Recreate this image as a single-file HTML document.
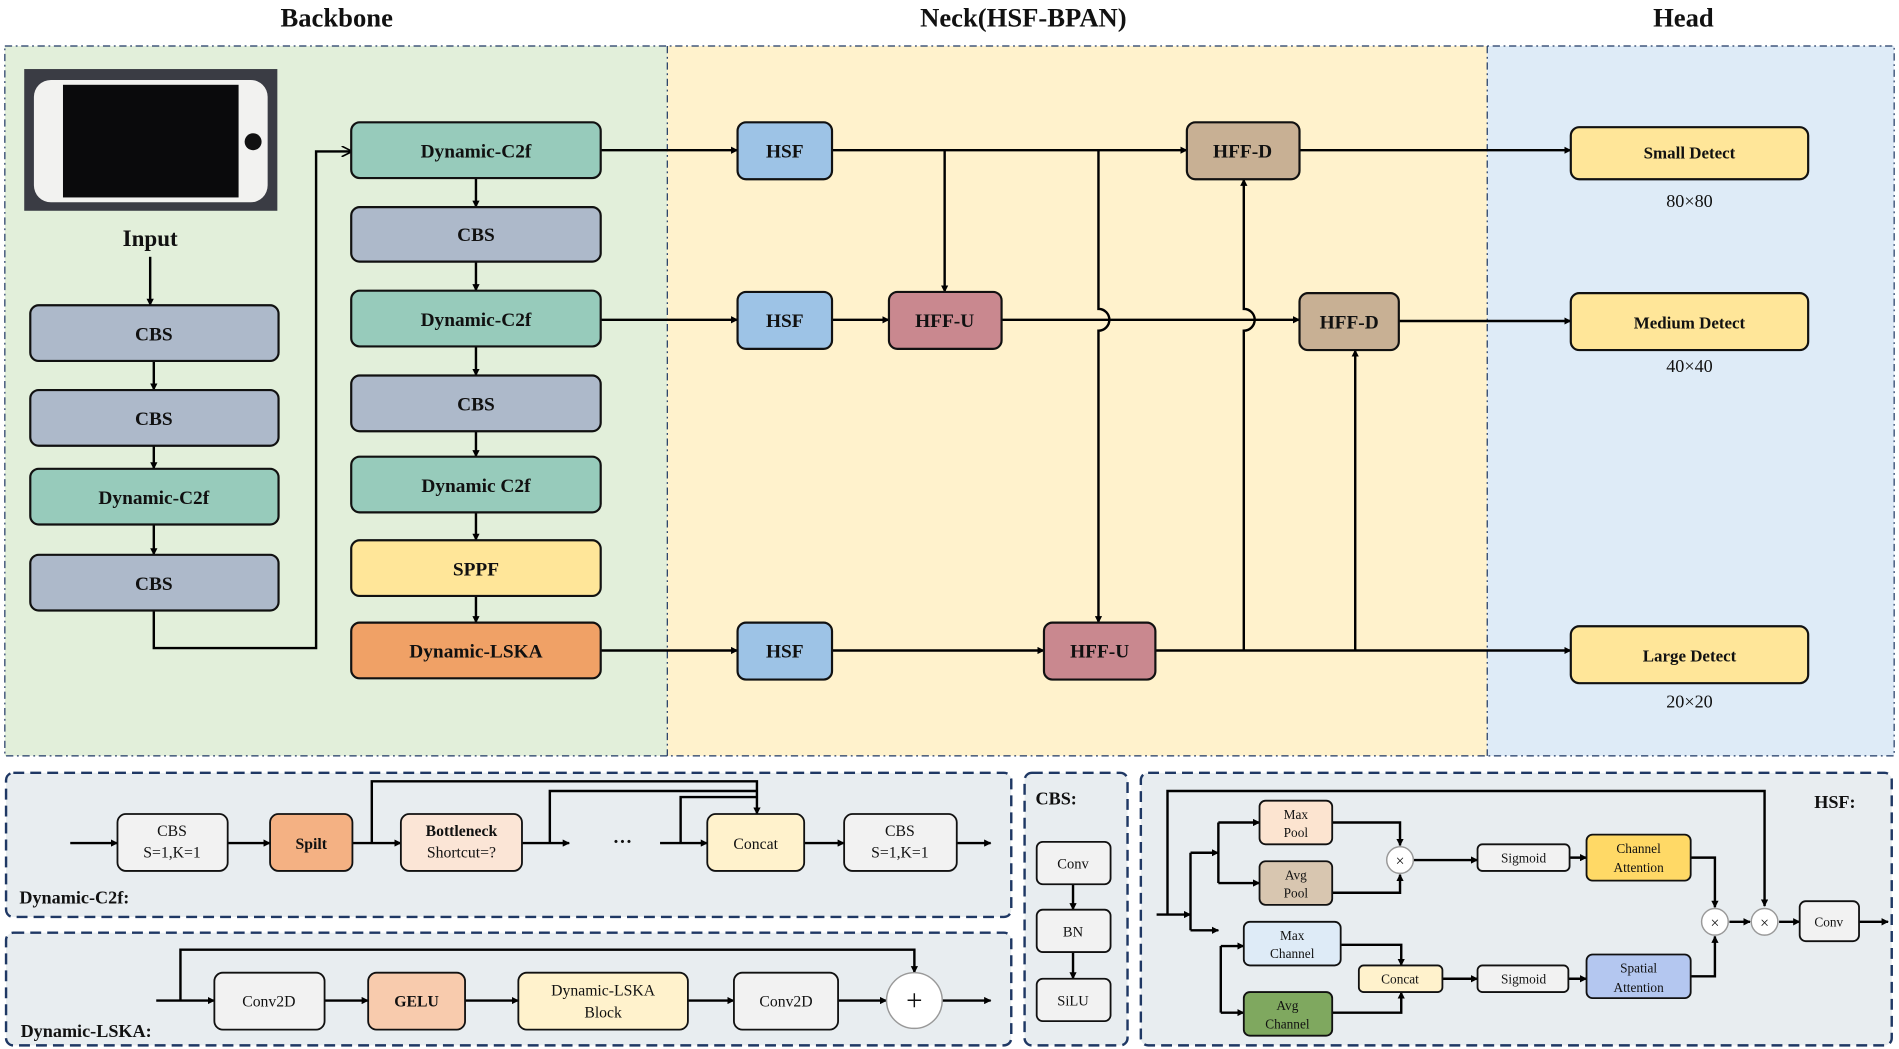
<!DOCTYPE html>
<html><head><meta charset="utf-8"><style>
html,body{margin:0;padding:0;background:#fff}
svg{display:block}
text{font-family:"Liberation Serif",serif;fill:#111}
.b{font-weight:bold}
</style></head><body>
<svg width="1899" height="1049" viewBox="0 0 1568 866" preserveAspectRatio="none" xmlns="http://www.w3.org/2000/svg">
<defs>
<marker id="a" viewBox="0 0 10 10" refX="9" refY="5" markerWidth="6" markerHeight="6" orient="auto" markerUnits="userSpaceOnUse"><path d="M0,0 L10,5 L0,10 z" fill="#000"/></marker>
<marker id="o" viewBox="0 0 10 10" refX="9" refY="5" markerWidth="9" markerHeight="9" orient="auto" markerUnits="userSpaceOnUse"><path d="M0,0 L10,5 L0,10" fill="none" stroke="#000" stroke-width="1.5"/></marker>
</defs>
<text x="278" y="22" font-size="22" class="b" text-anchor="middle">Backbone</text>
<text x="845" y="22" font-size="22" class="b" text-anchor="middle">Neck(HSF-BPAN)</text>
<text x="1390" y="22" font-size="22" class="b" text-anchor="middle">Head</text>
<rect x="4" y="38" width="547" height="586" fill="#e2efda"/>
<rect x="551" y="38" width="677" height="586" fill="#fff2cc"/>
<rect x="1228" y="38" width="336" height="586" fill="#deebf7"/>
<g fill="none" stroke="#1f3864" stroke-width="1" stroke-dasharray="6,3,1.5,3">
<rect x="4" y="38" width="1560" height="586"/>
<line x1="551" y1="38" x2="551" y2="624"/>
<line x1="1228" y1="38" x2="1228" y2="624"/>
</g>
<rect x="20" y="57" width="209" height="117" fill="#3a3c44"/>
<rect x="28" y="66" width="193" height="101" rx="14" fill="#f2f2f0"/>
<rect x="52" y="70" width="145" height="93" fill="#0a0a0c"/>
<circle cx="209" cy="117" r="7" fill="#111"/>
<text x="124" y="203" font-size="19" class="b" text-anchor="middle">Input</text>
<g stroke="#000" stroke-width="2" fill="none">
<line x1="124" y1="212" x2="124" y2="252" marker-end="url(#a)"/>
<line x1="127" y1="298" x2="127" y2="322" marker-end="url(#a)"/>
<line x1="127" y1="368" x2="127" y2="387" marker-end="url(#a)"/>
<line x1="127" y1="433" x2="127" y2="458" marker-end="url(#a)"/>
<polyline points="127,504 127,535 261,535 261,125 290,125" marker-end="url(#o)"/>
<line x1="393" y1="147" x2="393" y2="171" marker-end="url(#a)"/>
<line x1="393" y1="216" x2="393" y2="240" marker-end="url(#a)"/>
<line x1="393" y1="286" x2="393" y2="310" marker-end="url(#a)"/>
<line x1="393" y1="356" x2="393" y2="377" marker-end="url(#a)"/>
<line x1="393" y1="423" x2="393" y2="446" marker-end="url(#a)"/>
<line x1="393" y1="492" x2="393" y2="514" marker-end="url(#a)"/>
<line x1="496" y1="124" x2="609" y2="124" marker-end="url(#a)"/>
<line x1="496" y1="264" x2="609" y2="264" marker-end="url(#a)"/>
<line x1="496" y1="537" x2="609" y2="537" marker-end="url(#a)"/>
<line x1="687" y1="124" x2="980" y2="124" marker-end="url(#a)"/>
<line x1="780" y1="124" x2="780" y2="241" marker-end="url(#a)"/>
<line x1="687" y1="264" x2="734" y2="264" marker-end="url(#a)"/>
<line x1="827" y1="264" x2="1073" y2="264" marker-end="url(#a)"/>
<path d="M907,124 V255 A9,9 0 0 1 907,273 V514" marker-end="url(#a)"/>
<path d="M1027,537 V273 A9,9 0 0 0 1027,255 V148" marker-end="url(#a)"/>
<line x1="1119" y1="537" x2="1119" y2="289" marker-end="url(#a)"/>
<line x1="687" y1="537" x2="862" y2="537" marker-end="url(#a)"/>
<line x1="954" y1="537" x2="1297" y2="537" marker-end="url(#a)"/>
<line x1="1073" y1="124" x2="1297" y2="124" marker-end="url(#a)"/>
<line x1="1155" y1="265" x2="1297" y2="265" marker-end="url(#a)"/>
</g>
<g stroke="#111" stroke-width="1.8">
<rect x="25" y="252" width="205" height="46" rx="7" fill="#adb9ca"/>
<rect x="25" y="322" width="205" height="46" rx="7" fill="#adb9ca"/>
<rect x="25" y="387" width="205" height="46" rx="7" fill="#97cbbb"/>
<rect x="25" y="458" width="205" height="46" rx="7" fill="#adb9ca"/>
<rect x="290" y="101" width="206" height="46" rx="7" fill="#97cbbb"/>
<rect x="290" y="171" width="206" height="45" rx="7" fill="#adb9ca"/>
<rect x="290" y="240" width="206" height="46" rx="7" fill="#97cbbb"/>
<rect x="290" y="310" width="206" height="46" rx="7" fill="#adb9ca"/>
<rect x="290" y="377" width="206" height="46" rx="7" fill="#97cbbb"/>
<rect x="290" y="446" width="206" height="46" rx="7" fill="#ffe699"/>
<rect x="290" y="514" width="206" height="46" rx="7" fill="#f0a166"/>
<rect x="609" y="101" width="78" height="47" rx="7" fill="#9dc3e6"/>
<rect x="609" y="241" width="78" height="47" rx="7" fill="#9dc3e6"/>
<rect x="609" y="514" width="78" height="47" rx="7" fill="#9dc3e6"/>
<rect x="734" y="241" width="93" height="47" rx="7" fill="#c9888f"/>
<rect x="862" y="514" width="92" height="47" rx="7" fill="#c9888f"/>
<rect x="980" y="101" width="93" height="47" rx="7" fill="#c8b094"/>
<rect x="1073" y="242" width="82" height="47" rx="7" fill="#c8b094"/>
<rect x="1297" y="105" width="196" height="43" rx="7" fill="#ffe699"/>
<rect x="1297" y="242" width="196" height="47" rx="7" fill="#ffe699"/>
<rect x="1297" y="517" width="196" height="47" rx="7" fill="#ffe699"/>
</g>
<g font-size="16" class="b" text-anchor="middle">
<text x="127" y="281">CBS</text><text x="127" y="351">CBS</text>
<text x="127" y="416">Dynamic-C2f</text><text x="127" y="487">CBS</text>
<text x="393" y="130">Dynamic-C2f</text><text x="393" y="199">CBS</text>
<text x="393" y="269">Dynamic-C2f</text><text x="393" y="339">CBS</text>
<text x="393" y="406">Dynamic C2f</text><text x="393" y="475">SPPF</text>
<text x="393" y="543">Dynamic-LSKA</text>
<text x="648" y="130">HSF</text><text x="648" y="270">HSF</text><text x="648" y="543">HSF</text>
<text x="780" y="270">HFF-U</text><text x="908" y="543">HFF-U</text>
<text x="1026" y="130">HFF-D</text><text x="1114" y="271">HFF-D</text>
<text x="1395" y="131" font-size="14">Small Detect</text>
<text x="1395" y="271" font-size="14">Medium Detect</text>
<text x="1395" y="546" font-size="14">Large Detect</text>
</g>
<g font-size="15" text-anchor="middle">
<text x="1395" y="171">80×80</text><text x="1395" y="307">40×40</text><text x="1395" y="584">20×20</text>
</g>
<g fill="#e8edf0" stroke="#1f3864" stroke-width="2" stroke-dasharray="9,5">
<rect x="5" y="638" width="830" height="119" rx="6"/>
<rect x="5" y="770" width="830" height="93" rx="6"/>
<rect x="846" y="638" width="85" height="225" rx="6"/>
<rect x="942" y="638" width="620" height="225" rx="6"/>
</g>
<g stroke="#000" stroke-width="2" fill="none">
<line x1="58" y1="696" x2="97" y2="696" marker-end="url(#a)"/>
<line x1="188" y1="696" x2="223" y2="696" marker-end="url(#a)"/>
<line x1="291" y1="696" x2="331" y2="696" marker-end="url(#a)"/>
<line x1="431" y1="696" x2="470" y2="696" marker-end="url(#a)"/>
<line x1="545" y1="696" x2="584" y2="696" marker-end="url(#a)"/>
<line x1="664" y1="696" x2="697" y2="696" marker-end="url(#a)"/>
<line x1="790" y1="696" x2="818" y2="696" marker-end="url(#a)"/>
<polyline points="307,696 307,645 625,645 625,672" marker-end="url(#a)"/>
<polyline points="454,696 454,653 625,653"/>
<polyline points="562,696 562,658 625,658"/>
<line x1="129" y1="826" x2="177" y2="826" marker-end="url(#a)"/>
<polyline points="149,826 149,784 755,784 755,803" marker-end="url(#a)"/>
<line x1="268" y1="826" x2="304" y2="826" marker-end="url(#a)"/>
<line x1="384" y1="826" x2="428" y2="826" marker-end="url(#a)"/>
<line x1="568" y1="826" x2="606" y2="826" marker-end="url(#a)"/>
<line x1="692" y1="826" x2="732" y2="826" marker-end="url(#a)"/>
<line x1="778" y1="826" x2="818" y2="826" marker-end="url(#a)"/>
<line x1="886" y1="730" x2="886" y2="751" marker-end="url(#a)"/>
<line x1="886" y1="786" x2="886" y2="808" marker-end="url(#a)"/>
<line x1="955" y1="755" x2="983" y2="755" marker-end="url(#a)"/>
<polyline points="964,755 964,653 1457,653 1457,748" marker-end="url(#a)"/>
<line x1="983" y1="704" x2="983" y2="768"/>
<line x1="983" y1="704" x2="1006" y2="704" marker-end="url(#a)"/>
<line x1="983" y1="768" x2="1006" y2="768" marker-end="url(#a)"/>
<line x1="1006" y1="679" x2="1006" y2="729"/>
<line x1="1006" y1="679" x2="1040" y2="679" marker-end="url(#a)"/>
<line x1="1006" y1="729" x2="1040" y2="729" marker-end="url(#a)"/>
<line x1="1008" y1="781" x2="1008" y2="836"/>
<line x1="1008" y1="781" x2="1027" y2="781" marker-end="url(#a)"/>
<line x1="1008" y1="836" x2="1027" y2="836" marker-end="url(#a)"/>
<polyline points="1099,679 1156,679 1156,698" marker-end="url(#a)"/>
<polyline points="1099,737 1156,737 1156,722" marker-end="url(#a)"/>
<line x1="1167" y1="710" x2="1220" y2="710" marker-end="url(#a)"/>
<line x1="1296" y1="708" x2="1310" y2="708" marker-end="url(#a)"/>
<polyline points="1396,708 1416,708 1416,749" marker-end="url(#a)"/>
<polyline points="1396,806 1416,806 1416,773" marker-end="url(#a)"/>
<polyline points="1106,780 1157,780 1157,797" marker-end="url(#a)"/>
<polyline points="1100,836 1157,836 1157,819" marker-end="url(#a)"/>
<line x1="1191" y1="808" x2="1220" y2="808" marker-end="url(#a)"/>
<line x1="1295" y1="808" x2="1310" y2="808" marker-end="url(#a)"/>
<line x1="1428" y1="761" x2="1445" y2="761" marker-end="url(#a)"/>
<line x1="1469" y1="761" x2="1486" y2="761" marker-end="url(#a)"/>
<line x1="1535" y1="761" x2="1559" y2="761" marker-end="url(#a)"/>
</g>
<g stroke="#111" stroke-width="1.5">
<rect x="97" y="672" width="91" height="47" rx="7" fill="#f2f2f2"/>
<rect x="223" y="672" width="68" height="47" rx="7" fill="#f4b183"/>
<rect x="331" y="672" width="100" height="47" rx="7" fill="#fbe5d6"/>
<rect x="584" y="672" width="80" height="47" rx="7" fill="#fff2cc"/>
<rect x="697" y="672" width="93" height="47" rx="7" fill="#f2f2f2"/>
<rect x="177" y="803" width="91" height="47" rx="7" fill="#f2f2f2"/>
<rect x="304" y="803" width="80" height="47" rx="7" fill="#f8cbad"/>
<rect x="428" y="803" width="140" height="47" rx="7" fill="#fff2cc"/>
<rect x="606" y="803" width="86" height="47" rx="7" fill="#f2f2f2"/>
<rect x="856" y="695" width="61" height="35" rx="5" fill="#f2f2f2"/>
<rect x="856" y="751" width="61" height="35" rx="5" fill="#f2f2f2"/>
<rect x="856" y="808" width="61" height="35" rx="5" fill="#f2f2f2"/>
<rect x="1040" y="661" width="60" height="36" rx="5" fill="#fce4d0"/>
<rect x="1040" y="711" width="60" height="36" rx="5" fill="#d8c6b0"/>
<rect x="1027" y="761" width="80" height="36" rx="5" fill="#deebf7"/>
<rect x="1027" y="819" width="73" height="36" rx="5" fill="#7fa85f"/>
<rect x="1122" y="797" width="69" height="22" rx="4" fill="#fff2cc"/>
<rect x="1220" y="697" width="76" height="22" rx="4" fill="#f2f2f2"/>
<rect x="1220" y="797" width="75" height="22" rx="4" fill="#f2f2f2"/>
<rect x="1310" y="689" width="86" height="38" rx="5" fill="#ffd966"/>
<rect x="1310" y="788" width="86" height="36" rx="5" fill="#b4c7f0"/>
<rect x="1486" y="744" width="49" height="33" rx="5" fill="#f2f2f2"/>
</g>
<g stroke="#999" stroke-width="1.2" fill="#fff">
<circle cx="755" cy="826" r="23"/>
<circle cx="1156" cy="710" r="11"/>
<circle cx="1416" cy="761" r="11"/>
<circle cx="1457" cy="761" r="11"/>
</g>
<g text-anchor="middle" font-size="13">
<text x="755" y="834" font-size="24">+</text>
<text x="1156" y="715">×</text><text x="1416" y="766">×</text><text x="1457" y="766">×</text>
<text x="142" y="690">CBS</text><text x="142" y="708">S=1,K=1</text>
<text x="257" y="701" class="b">Spilt</text>
<text x="381" y="690" class="b">Bottleneck</text><text x="381" y="708">Shortcut=?</text>
<text x="514" y="700" class="b" font-size="16">···</text>
<text x="624" y="701">Concat</text>
<text x="743" y="690">CBS</text><text x="743" y="708">S=1,K=1</text>
<text x="222" y="831">Conv2D</text>
<text x="344" y="831" class="b">GELU</text>
<text x="498" y="822">Dynamic-LSKA</text><text x="498" y="840">Block</text>
<text x="649" y="831">Conv2D</text>
<text x="886" y="717" font-size="12">Conv</text><text x="886" y="773" font-size="12">BN</text><text x="886" y="830" font-size="12">SiLU</text>
<g font-size="11">
<text x="1070" y="676">Max</text><text x="1070" y="691">Pool</text>
<text x="1070" y="726">Avg</text><text x="1070" y="741">Pool</text>
<text x="1067" y="776">Max</text><text x="1067" y="791">Channel</text>
<text x="1063" y="834">Avg</text><text x="1063" y="849">Channel</text>
<text x="1156" y="812">Concat</text>
<text x="1258" y="712">Sigmoid</text><text x="1258" y="812">Sigmoid</text>
<text x="1353" y="704">Channel</text><text x="1353" y="720">Attention</text>
<text x="1353" y="803">Spatial</text><text x="1353" y="819">Attention</text>
<text x="1510" y="765">Conv</text>
</g>
</g>
<g class="b" font-size="15">
<text x="16" y="746">Dynamic-C2f:</text>
<text x="17" y="856">Dynamic-LSKA:</text>
<text x="855" y="664">CBS:</text>
<text x="1498" y="667">HSF:</text>
</g>
</svg>
</body></html>
